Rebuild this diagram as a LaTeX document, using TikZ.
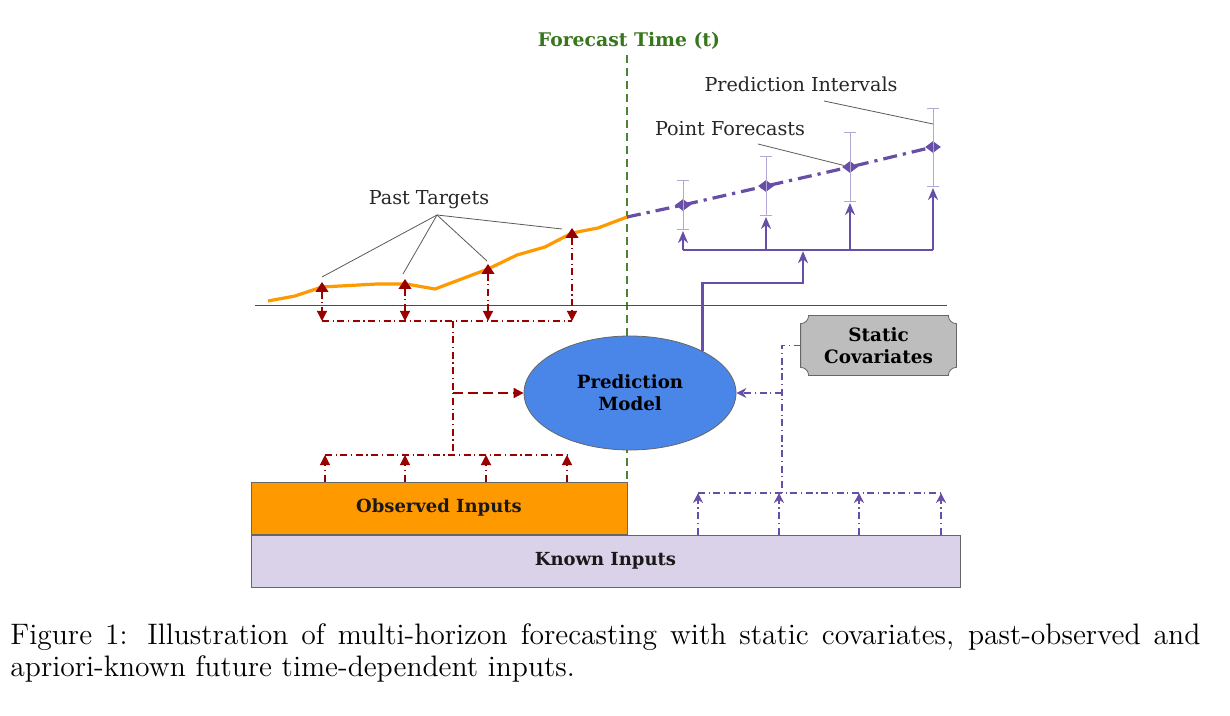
\documentclass[tikz,border=0pt]{standalone}
\usepackage{fontspec}
\newfontfamily\diafont{DejaVu Serif}
\usepackage{xcolor}
\definecolor{pastorange}{HTML}{FF9900}
\definecolor{pastred}{HTML}{990000}
\definecolor{fcstpurple}{HTML}{674EA7}
\definecolor{barpurple}{HTML}{B4A7D6}
\definecolor{knownlilac}{HTML}{D9D2E9}
\definecolor{modelblue}{HTML}{4A86E8}
\definecolor{timegreen}{HTML}{38761D}
\definecolor{staticgray}{HTML}{BDBDBD}
\definecolor{edgegray}{HTML}{666666}
\usepackage{tikz}
\usetikzlibrary{positioning,arrows.meta,shapes.geometric,calc}

\begin{document}
\begin{tikzpicture}[
  x=0.5pt, y=-0.5pt,
  font=\diafont,
  lbl/.style={font=\diafont\fontsize{9.6}{11}\selectfont, text=black!85, inner sep=0pt},
  inbox/.style={draw=edgegray, font=\diafont\bfseries\fontsize{9}{11}\selectfont,
                inner sep=0pt, text=black!90},
  model/.style={ellipse, draw=edgegray, fill=modelblue, inner sep=0pt,
                minimum width=106pt, minimum height=57pt, align=center,
                font=\diafont\bfseries\fontsize{9.1}{11}\selectfont},
  plaque/.style={draw=edgegray, fill=staticgray},
  leader/.style={draw=black!65, line width=0.4pt},
  pastline/.style={pastorange, line width=1.6pt, line join=round},
  redarrow/.style={pastred, line width=0.6pt,
                   dash pattern=on 3.5pt off 1.8pt on 0.6pt off 1.8pt},
  redtips/.style={{Triangle[width=6.5pt,length=5pt]}-{Triangle[width=5pt,length=5pt]}},
  redup/.style={redarrow, -{Triangle[width=5pt,length=5pt]}},
  feedarrow/.style={pastred, line width=1pt, dash pattern=on 5pt off 2.5pt,
                    -{Triangle[width=5pt,length=5pt]}},
  purplearrow/.style={fcstpurple, line width=0.6pt,
                      dash pattern=on 3.5pt off 1.8pt on 0.6pt off 1.8pt},
  purpleup/.style={purplearrow, -{Stealth[width=5pt,length=5pt]}},
  fcstarrow/.style={fcstpurple, line width=1.2pt, -{Stealth[width=5pt,length=6pt]}},
  fcstline/.style={fcstpurple, line width=1.6pt,
                   dash pattern=on 7pt off 3pt on 1.6pt off 3pt},
  fcst/.style={diamond, fill=fcstpurple, inner sep=0pt, minimum width=8pt,
               minimum height=6pt},
  interval/.style={barpurple, line width=0.5pt,
                   {Bar[width=6pt]}-{Bar[width=6pt]}}
]
\useasboundingbox (0,0) rectangle (1230,716);

%% Forecast time divider
\node (ftime) [font=\diafont\bfseries\fontsize{9.4}{11}\selectfont, text=timegreen,
               inner sep=0pt] at (629,41) {Forecast Time (t)};
\coordinate (ttop) at (627,55);
\coordinate (tbot) at (627,535);
\draw [timegreen!90, line width=0.6pt, dash pattern=on 4pt off 2.5pt] (ttop) -- (tbot);

%% Time axis
\coordinate (axl) at (255,306);
\coordinate (axr) at (947,306);
\draw [black!70, line width=0.5pt] (axl) -- (axr);

%% Input boxes and model
\node (obs) [inbox, fill=pastorange, minimum width=188pt, minimum height=26pt]
    at (439,508) {Observed Inputs};
\node (known) [inbox, fill=knownlilac, minimum width=354.5pt, minimum height=26pt]
    at (605.5,561) {Known Inputs};
\node (predmodel) [model] at (630,393) {Prediction\\Model};
\node (static) [minimum width=77.5pt, minimum height=29.5pt, inner sep=0pt]
    at (878.5,345.5) {};
\fill [plaque]
    ([xshift=4pt]static.north west) -- ([xshift=-4pt]static.north east)
    arc[start angle=180, end angle=270, radius=4pt]
    -- ([yshift=4pt]static.south east)
    arc[start angle=90, end angle=180, radius=4pt]
    -- ([xshift=4pt]static.south west)
    arc[start angle=0, end angle=90, radius=4pt]
    -- ([yshift=-4pt]static.north west)
    arc[start angle=270, end angle=360, radius=4pt] -- cycle;
\node [align=center, font=\diafont\bfseries\fontsize{9.2}{11}\selectfont]
    at (static.center) {Static\\Covariates};

%% Past targets
\draw [pastline] (268,301) -- (295,296) -- (322,287) -- (377,284) -- (406,284)
    -- (435,289) -- (488,269) -- (517,255) -- (545,247) -- (572,233)
    -- (598,228) -- (627,217);
\coordinate (p1) at (322,282);
\coordinate (p2) at (405,279);
\coordinate (p3) at (488,264);
\coordinate (p4) at (572,228);

%% Past targets -> model
\coordinate (rtop) at (453,321);
\coordinate (rlow) at (453,455);
\draw [redarrow, redtips] (p1) -- (p1 |- rtop);
\draw [redarrow, redtips] (p2) -- (p2 |- rtop);
\draw [redarrow, redtips] (p3) -- (p3 |- rtop);
\draw [redarrow, redtips] (p4) -- (p4 |- rtop);
\draw [redarrow] (p1 |- rtop) -- (p4 |- rtop);
\draw [redarrow] (rtop) -- (rlow);
\draw [feedarrow] (rtop |- predmodel.west) -- (predmodel.west);

%% Observed inputs -> model
\coordinate (o1) at (325,455);
\coordinate (o4) at (567,455);
\draw [redarrow] (o1) -- (o4);
\draw [redup] (obs.north -| o1) -- (o1);
\draw [redup] (obs.north -| 405,0) -- (405,455);
\draw [redup] (obs.north -| 486,0) -- (486,455);
\draw [redup] (obs.north -| o4) -- (o4);

%% Known inputs and static covariates -> model
\coordinate (kb) at (782,493);
\coordinate (k1) at (698,493);
\coordinate (k4) at (941,493);
\draw [purplearrow] (k1) -- (k4);
\draw [purpleup] (known.north -| k1) -- (k1);
\draw [purpleup] (known.north -| 779,0) -- (779,493);
\draw [purpleup] (known.north -| 859,0) -- (859,493);
\draw [purpleup] (known.north -| k4) -- (k4);
\draw [purplearrow] (static.west) -| (kb);
\draw [purplearrow, -{Stealth[width=5pt,length=5pt]}] (predmodel.east -| kb) -- (predmodel.east);

%% Forecasts
\coordinate (f0) at (627,217);
\node (f1) [fcst] at (683,205) {};
\node (f2) [fcst] at (766,186) {};
\node (f3) [fcst] at (850,167) {};
\node (f4) [fcst] at (933,147) {};
\draw [interval] (683,180) -- (683,230);
\draw [interval] (766,156) -- (766,216);
\draw [interval] (850,132) -- (850,202);
\draw [interval] (933,108) -- (933,187);
\draw [fcstline] (f0) -- (f1.center) -- (f2.center) -- (f3.center) -- (f4.center);

%% Model -> forecasts
\coordinate (pk) at (803,283);
\coordinate (pj) at (803,250);
\draw [fcstarrow] (predmodel.30) |- (pk) -- ([yshift=-0.6pt]pj);
\draw [fcstpurple, line width=1.2pt] (683,250) -- (933,250);
\draw [fcstarrow] (683,250) -- (683,231);
\draw [fcstarrow] (766,250) -- (766,217);
\draw [fcstarrow] (850,250) -- (850,203);
\draw [fcstarrow] (933,250) -- (933,188);

%% Labels with leaders
\node (pastlbl) [lbl] at (429,200) {Past Targets};
\coordinate (pastfan) at (437,215);
\draw [leader] (pastfan) -- (322,277);
\draw [leader] (pastfan) -- (403,274);
\draw [leader] (pastfan) -- (487,261);
\draw [leader] (pastfan) -- (562,229);
\node (ptlbl) [lbl] at (730,129) {Point Forecasts};
\draw [leader] (758,144) -- (f3);
\node (pilbl) [lbl] at (801,84) {Prediction Intervals};
\draw [leader] (824,101) -- (933,124);

%% Caption
\node (caption) [anchor=north west, inner sep=0pt, text width=595pt, align=justify,
                 font=\fontsize{14.8}{16}\selectfont] at (10,623)
    {Figure 1: Illustration of multi-horizon forecasting with static covariates,
     past-observed and\linebreak apriori-known future time-dependent inputs.};

\end{tikzpicture}
\end{document}
